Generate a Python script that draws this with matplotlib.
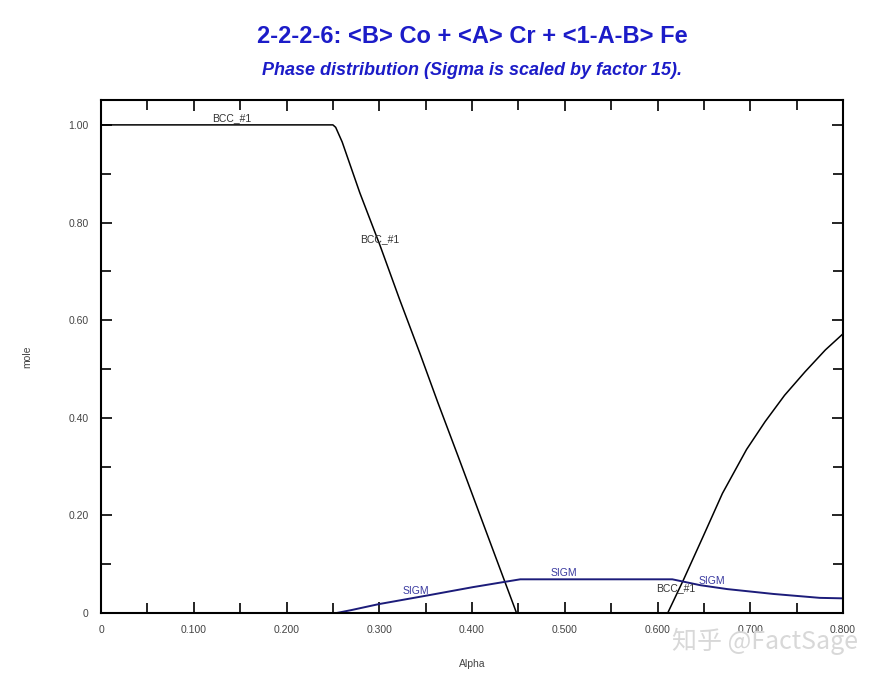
import numpy as np
import matplotlib.pyplot as plt
from matplotlib.ticker import MultipleLocator, FuncFormatter

plt.rcParams['font.family'] = ['Liberation Sans', 'DejaVu Sans']

# BCC_#1, low-alpha branch
bcc1_x = [0.0, 0.25, 0.253, 0.260, 0.279, 0.301, 0.322, 0.344, 0.363, 0.385, 0.405, 0.425, 0.448]
bcc1_y = [1.0, 1.0, 0.995, 0.965, 0.861, 0.752, 0.642, 0.531, 0.432, 0.321, 0.219, 0.117, 0.0]

# BCC_#1, high-alpha branch
bcc2_x = [0.611, 0.628, 0.649, 0.670, 0.696, 0.716, 0.737, 0.759, 0.781, 0.800]
bcc2_y = [0.0, 0.068, 0.156, 0.245, 0.335, 0.392, 0.446, 0.494, 0.539, 0.572]

# SIGM (scaled by 15)
sig_x = [0.254, 0.27, 0.299, 0.355, 0.401, 0.436, 0.452, 0.616, 0.646, 0.675, 0.725, 0.775, 0.800]
sig_y = [0.0, 0.006, 0.018, 0.037, 0.053, 0.064, 0.069, 0.069, 0.057, 0.049, 0.039, 0.031, 0.030]

fig = plt.figure(figsize=(8.87, 6.83), dpi=100)
ax = fig.add_axes([0.1139, 0.1025, 0.8365, 0.7511])

ax.plot(bcc1_x, bcc1_y, color='black', lw=1.1)
ax.plot(bcc2_x, bcc2_y, color='black', lw=1.1)
ax.plot(sig_x, sig_y, color='#1c1c7a', lw=1.4)

lab = dict(fontsize=7.5, ha='center', va='bottom')
ax.text(0.141, 1.003, 'BCC_#1', color='#333333', **lab)
ax.text(0.301, 0.755, 'BCC_#1', color='#333333', **lab)
ax.text(0.620, 0.040, 'BCC_#1', color='#333333', **lab)
ax.text(0.339, 0.034, 'SIGM', color='#3a3aa0', **lab)
ax.text(0.499, 0.071, 'SIGM', color='#3a3aa0', **lab)
ax.text(0.659, 0.055, 'SIGM', color='#3a3aa0', **lab)

ax.set_xlim(0, 0.8)
ax.set_ylim(0, 1.051)
ax.xaxis.set_major_locator(MultipleLocator(0.1))
ax.xaxis.set_minor_locator(MultipleLocator(0.05))
ax.yaxis.set_major_locator(MultipleLocator(0.2))
ax.yaxis.set_minor_locator(MultipleLocator(0.1))
ax.xaxis.set_major_formatter(FuncFormatter(lambda v, p: '0' if abs(v) < 1e-9 else '%.3f' % v))
ax.yaxis.set_major_formatter(FuncFormatter(lambda v, p: '0' if abs(v) < 1e-9 else '%.2f' % v))
ax.tick_params(which='both', direction='in', top=True, right=True, color='black',
               labelsize=7.5, labelcolor='#444444', width=1.2)
ax.tick_params(which='major', length=8, pad=9)
ax.tick_params(which='minor', length=7)
for s in ax.spines.values():
    s.set_linewidth(1.5)

ax.set_xlabel('Alpha', fontsize=7.5, color='#444444', labelpad=17)
ax.set_ylabel('mole', fontsize=7.5, color='#444444', labelpad=26)

fig.text(0.532, 0.946, '2-2-2-6: <B> Co + <A> Cr + <1-A-B> Fe', ha='center', va='center',
         fontsize=17, fontweight='bold', color='#1c1cc8')
fig.text(0.532, 0.897, 'Phase distribution (Sigma is scaled by factor 15).', ha='center', va='center',
         fontsize=13, fontweight='bold', style='italic', color='#1c1cc8')

fig.text(0.862, 0.061, '知乎 @FactSage', ha='center', va='center', fontsize=18,
         color='#d8d8d8', family=['Noto Sans CJK SC', 'DejaVu Sans'])

fig.savefig('out.png', dpi=100)
